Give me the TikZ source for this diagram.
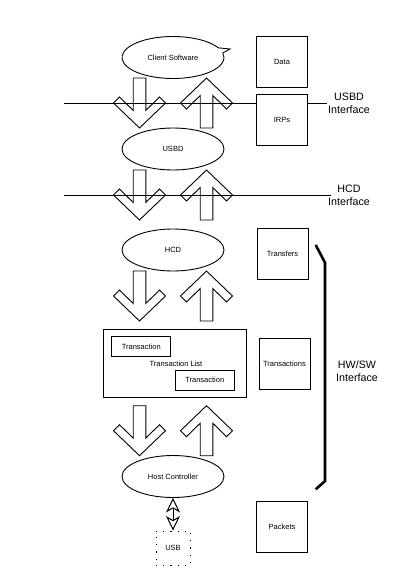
\documentclass[tikz,border=0pt]{standalone}
\usepackage{fontspec}
\setmainfont{Liberation Sans}
\usetikzlibrary{shapes,arrows.meta,positioning}
\tikzstyle{box} = [rectangle, minimum width=51pt, minimum height=51pt, inner sep=0pt, text centered, draw=black, fill=white]
\tikzstyle{layer} = [ellipse, minimum width=102pt, minimum height=42pt, inner sep=0pt, text centered, draw=black]
\tikzstyle{inbox} = [rectangle, minimum width=59pt, minimum height=20pt, inner sep=0pt, text centered, draw=black]
\tikzstyle{iface} = [align=center, font=\fontsize{10.7}{13}\selectfont]
\tikzstyle{link} = [{Stealth[open,length=14.5pt,width=14pt,inset=4pt]}-{Stealth[open,length=14.5pt,width=14pt,inset=4pt]}, line width=1pt]
\tikzset{
  downflow/.pic={\draw (-6.3,0) -- (-6.3,32.5) -- (-20,19) -- (-26,25) -- (0,50) -- (26,25) -- (20,19) -- (6.3,32.5) -- (6.3,0) -- cycle;},
  upflow/.pic={\draw (0,0) -- (-26,25) -- (-20,31) -- (-6.3,17.5) -- (-6.3,50) -- (6.3,50) -- (6.3,17.5) -- (20,31) -- (26,25) -- cycle;}
}
\begin{document}
\begin{tikzpicture}[x=1pt, y=-1pt, line width=0.9pt, font=\fontsize{7.5}{9}\selectfont]
  \useasboundingbox (0,0) rectangle (420,578);
  % interface lines
  \coordinate (usbdL) at (64,103);
  \coordinate (usbdR) at (327,103);
  \coordinate (hcdL) at (64,195.5);
  \coordinate (hcdR) at (331,195.5);
  \draw (usbdL) -- (usbdR);
  \draw (hcdL) -- (hcdR);
  % software layers
  \coordinate (tail) at (230,49);
  \node[layer, ellipse callout, callout absolute pointer={(tail)}](cs) at (173,57.5){Client Software};
  \node[layer](usbd) at (173,149){USBD};
  \node[layer](hcd) at (173,250){HCD};
  \node[layer](hc) at (173,476.5){Host Controller};
  % data boxes
  \node[box](data) at (282,61.5){Data};
  \node[box](irps) at (282,120){IRPs};
  \node[box](transfers) at (282.5,254){Transfers};
  \node[box](transactions) at (284.5,363.5){Transactions};
  \node[box](packets) at (282,527){Packets};
  % transaction list
  \node[rectangle, draw=black, minimum width=143.5pt, minimum height=68pt](tl) at (175,363.3){};
  \node(tltext) at (176,363.5){Transaction List};
  \node[inbox](t1) at (141.3,346.7){Transaction};
  \node[inbox](t2) at (204.8,380){Transaction};
  % flow arrows
  \foreach \y in {78,170,271,405.7}{
    \pic at (139.5,\y) {downflow};
    \pic at (206.5,\y) {upflow};
  }
  % bus
  \node[rectangle, minimum width=34pt, minimum height=34pt, inner sep=0pt, draw=black, dash pattern=on 1.2pt off 6pt](usb) at (173,548){USB};
  \draw[link](hc) -- (usb);
  % labels
  \node[iface](usbdlbl) at (349,103){USBD\\Interface};
  \node[iface](hcdlbl) at (349,195){HCD\\Interface};
  \coordinate (brtop) at (315.7,245);
  \coordinate (brbot) at (315.7,489.3);
  \draw[line width=2.6pt](brtop) -- (325,262.7) -- (325,481) -- (brbot);
  \node[iface](hwsw) at (357,371){HW/SW\\Interface};
\end{tikzpicture}
\end{document}
